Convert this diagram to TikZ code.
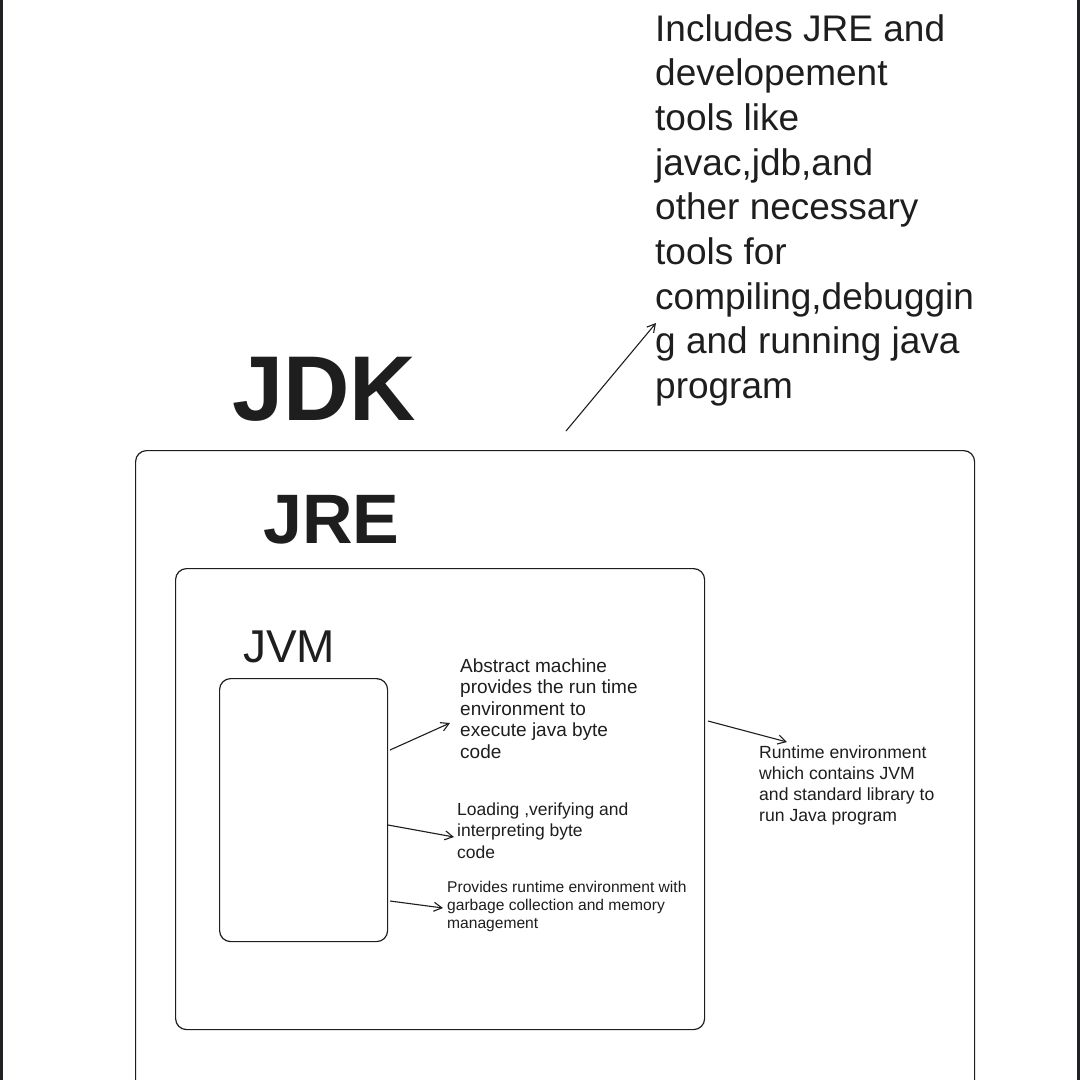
\documentclass[tikz,border=0pt]{standalone}
\usepackage{fontspec}
\setmainfont{Liberation Sans}
\usetikzlibrary{arrows.meta}
\definecolor{ink}{HTML}{1E1E1E}
\definecolor{edgeink}{HTML}{202124}
\begin{document}
\begin{tikzpicture}[x=1pt,y=-1pt,
  box/.style={draw=ink, line width=1.2pt, rounded corners=11pt, anchor=north west, inner sep=0pt},
  conn/.style={draw=ink, line width=1.1pt, -{Straight Barb[length=8pt,width=9pt,line width=1.1pt]}},
  blk/.style={anchor=base west, inner sep=0pt, text=ink},
  big/.style={anchor=base west, inner sep=0pt, text=ink}
]
\useasboundingbox (0,0) rectangle (1080,1080);
\fill[white] (0,0) rectangle (1080,1080);
\fill[edgeink] (0,0) rectangle (3,1080);
\fill[edgeink] (1077,0) rectangle (1080,1080);

% boxes
\node[box, minimum width=839pt, minimum height=700pt] (jdk) at (135,450) {};
\node[box, minimum width=529pt, minimum height=461pt] (jre) at (175,568) {};
\node[box, minimum width=168pt, minimum height=263pt] (jvm) at (219,678) {};

% titles
\node[big, font=\bfseries\fontsize{92}{100}\selectfont] (jdkt) at (232,420) {JDK};
\node[big, font=\bfseries\fontsize{70}{76}\selectfont] (jret) at (263,543) {JRE};
\node[big, font=\fontsize{46}{50}\selectfont] (jvmt) at (243,662) {JVM};

% text blocks
\node[blk, font=\fontsize{37}{44.7}\selectfont] (jdkd) at (655,41) {\vtop{%
  \hbox{Includes JRE and}\hbox{developement}\hbox{tools like}%
  \hbox{javac,jdb,and}\hbox{other necessary}\hbox{tools for}%
  \hbox{compiling,debuggin}\hbox{g and running java}\hbox{program}}};

\node[blk, font=\fontsize{19}{21.5}\selectfont] (jvmd1) at (460,672) {\vtop{%
  \hbox{Abstract machine}\hbox{provides the run time}\hbox{environment to}%
  \hbox{execute java byte}\hbox{code}}};

\node[blk, font=\fontsize{17.5}{21.5}\selectfont] (jvmd2) at (457,815) {\vtop{%
  \hbox{Loading ,verifying and}\hbox{interpreting byte}\hbox{code}}};

\node[blk, font=\fontsize{15.6}{18}\selectfont] (jvmd3) at (447,892) {\vtop{%
  \hbox{Provides runtime environment with}\hbox{garbage collection and memory}%
  \hbox{management}}};

\node[blk, font=\fontsize{17.6}{21.3}\selectfont] (jred) at (759,758) {\vtop{%
  \hbox{Runtime environment}\hbox{which contains JVM}\hbox{and standard library to}%
  \hbox{run Java program}}};

% connector end points
\coordinate (a0s) at (566,431);
\coordinate (a0e) at (656,323);
\coordinate (a1s) at (390,750);
\coordinate (a1e) at (450,723);
\coordinate (a2s) at (388,825);
\coordinate (a2e) at (454,837);
\coordinate (a3s) at (390,901);
\coordinate (a3e) at (443,908);
\coordinate (a4s) at (708,721);
\coordinate (a4e) at (787,742);

\draw[conn] (a0s) -- (a0e);
\draw[conn] (a1s) -- (a1e);
\draw[conn] (a2s) -- (a2e);
\draw[conn] (a3s) -- (a3e);
\draw[conn] (a4s) -- (a4e);
\end{tikzpicture}
\end{document}
